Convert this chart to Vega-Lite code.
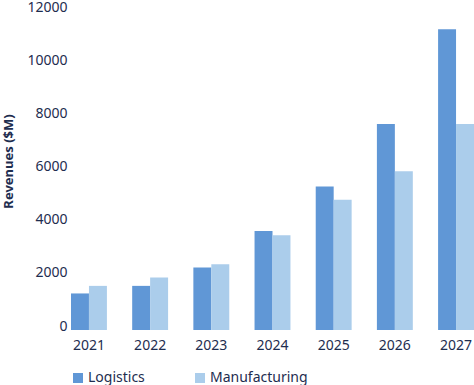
{
  "$schema": "https://vega.github.io/schema/vega-lite/v6.json",
  "autosize": {"type": "none"},
  "padding": {"left": 71, "top": 11, "right": 0, "bottom": 55},
  "width": 403,
  "height": 319,
  "background": "white",
  "config": {
    "view": {"stroke": null},
    "font": "Noto Sans",
    "axis": {"labelColor": "#1e2d4f", "titleColor": "#1e2d4f", "labelFont": "Noto Sans", "titleFont": "Noto Sans"},
    "legend": {"labelColor": "#1e2d4f", "labelFont": "Noto Sans"}
  },
  "data": {
    "values": [
      {"year": "2021", "series": "Logistics", "value": 1375},
      {"year": "2021", "series": "Manufacturing", "value": 1660},
      {"year": "2022", "series": "Logistics", "value": 1660},
      {"year": "2022", "series": "Manufacturing", "value": 1975},
      {"year": "2023", "series": "Logistics", "value": 2350},
      {"year": "2023", "series": "Manufacturing", "value": 2475},
      {"year": "2024", "series": "Logistics", "value": 3725},
      {"year": "2024", "series": "Manufacturing", "value": 3560},
      {"year": "2025", "series": "Logistics", "value": 5400},
      {"year": "2025", "series": "Manufacturing", "value": 4900},
      {"year": "2026", "series": "Logistics", "value": 7750},
      {"year": "2026", "series": "Manufacturing", "value": 5975},
      {"year": "2027", "series": "Logistics", "value": 11310},
      {"year": "2027", "series": "Manufacturing", "value": 7750}
    ]
  },
  "mark": {"type": "bar"},
  "encoding": {
    "x": {
      "field": "year",
      "type": "nominal",
      "scale": {"paddingInner": 0.413, "paddingOuter": 0, "align": 0},
      "axis": {"title": null, "labelAngle": 0, "ticks": false, "domain": false, "labelFontSize": 14, "labelPadding": 8}
    },
    "xOffset": {"field": "series", "type": "nominal", "scale": {"paddingInner": 0, "paddingOuter": 0}},
    "y": {
      "field": "value",
      "type": "quantitative",
      "scale": {"domain": [0, 12000], "nice": false},
      "axis": {
        "title": "Revenues ($M)",
        "titleFontSize": 13,
        "titleFontWeight": "bold",
        "titleX": -63,
        "titleY": 150,
        "titleAngle": -90,
        "titleAlign": "center",
        "titleBaseline": "middle",
        "values": [0, 2000, 4000, 6000, 8000, 10000, 12000],
        "format": "d",
        "grid": false,
        "ticks": false,
        "domain": false,
        "labelFontSize": 14,
        "labelPadding": 4,
        "labelBaseline": "alphabetic"
      }
    },
    "color": {
      "field": "series",
      "type": "nominal",
      "scale": {"domain": ["Logistics", "Manufacturing"], "range": ["#6097d6", "#abcdeb"]},
      "legend": {
        "title": null,
        "orient": "none",
        "direction": "horizontal",
        "legendX": 0,
        "legendY": 360,
        "padding": 0,
        "symbolType": "square",
        "symbolSize": 100,
        "symbolStrokeWidth": 0,
        "symbolOpacity": 1,
        "labelFontSize": 14,
        "labelOffset": 3,
        "columnPadding": 48
      }
    }
  }
}
